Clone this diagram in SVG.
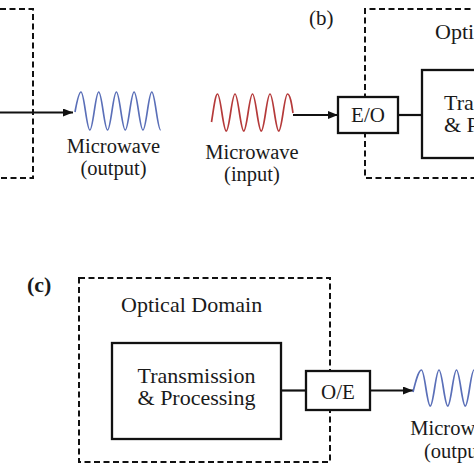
<svg xmlns="http://www.w3.org/2000/svg" width="474" height="474" viewBox="0 0 474 474">
<defs>
<style>
.t{font-family:"Liberation Serif","Times New Roman",serif;fill:#1a1a1a}
.m{font-size:20.5px;text-anchor:middle}
.b{font-size:22px}
.c{text-anchor:middle}
.dash{fill:none;stroke:#111;stroke-width:2;stroke-dasharray:6 3.5}
.box{fill:#fff;stroke:#111;stroke-width:2.3}
.ln{fill:none;stroke:#111;stroke-width:2.2}
.wb{fill:none;stroke:#5a6fb8;stroke-width:1.7}
.wr{fill:none;stroke:#b53a3a;stroke-width:1.7}
</style>
<marker id="ah" viewBox="0 0 10 8" refX="10" refY="4" markerWidth="10" markerHeight="8" markerUnits="userSpaceOnUse" orient="auto">
<path d="M0,0 L10,4 L0,8 Z" fill="#111"/>
</marker>
</defs>

<g id="panel-a">
<path class="dash" d="M0 9 H33 V178 H0"/>
</g>

<g id="panel-b-domain">
<path class="dash" d="M480 9 H365 V178 H480"/>
</g>

<g id="panel-c-domain">
<rect class="dash" x="79" y="278" width="251" height="184"/>
</g>

<g id="connectors">
<line class="ln" x1="0" y1="112.5" x2="73" y2="112.5" marker-end="url(#ah)"/>
<line class="ln" x1="293" y1="115" x2="338" y2="115" marker-end="url(#ah)"/>
<line class="ln" x1="398" y1="115" x2="422" y2="115"/>
<line class="ln" x1="281" y1="390.5" x2="306" y2="390.5"/>
<line class="ln" x1="370" y1="390.5" x2="413" y2="390.5" marker-end="url(#ah)"/>
</g>

<g id="wave-a-output">
<path class="wb" d="M75 112 C77 101 79 92 81 92 C84.22 92 86.63 130 89.85 130 S95.48 92 98.7 92 S104.33 130 107.55 130 S113.18 92 116.4 92 S122.03 130 125.25 130 S130.88 92 134.1 92 S139.73 130 142.95 130 S148.58 92 151.8 92 S157.43 130 160.65 130"/>
<text class="t m" x="113.5" y="153">Microwave</text>
<text class="t m" x="113.5" y="175">(output)</text>
</g>

<g id="wave-b-input">
<path class="wr" d="M211.5 122 C213.5 110 215.3 94 217.5 94 C220.69 94 223.06 131 226.25 131 S231.81 94 235 94 S240.56 131 243.75 131 S249.31 94 252.5 94 S258.06 131 261.25 131 S266.81 94 270 94 S275.56 131 278.75 131 S284.31 94 287.5 94 C290.2 94 291.8 105 293 113"/>
<text class="t m" x="252" y="159">Microwave</text>
<text class="t m" x="252" y="181">(input)</text>
</g>

<g id="label-b">
<text class="t" x="309" y="25" font-size="21">(b)</text>
<text class="t b" x="435" y="39">Optical Domain</text>
</g>

<g id="eo-box">
<rect class="box" x="338" y="97" width="60" height="36"/>
<text class="t c" x="368" y="122" font-size="21">E/O</text>
</g>

<g id="tp-box-b">
<rect class="box" x="422" y="70" width="170" height="88"/>
<text class="t b" x="444" y="110">Transmission</text>
<text class="t b" x="444" y="132">&amp; Processing</text>
</g>

<g id="label-c">
<text class="t" x="27" y="292" font-size="22" font-weight="bold">(c)</text>
<text class="t b" x="121" y="312">Optical Domain</text>
</g>

<g id="tp-box-c">
<rect class="box" x="112" y="343" width="169" height="96"/>
<text class="t b c" x="196.5" y="383">Transmission</text>
<text class="t b c" x="196.5" y="405">&amp; Processing</text>
</g>

<g id="oe-box">
<rect class="box" x="306" y="371" width="64" height="39"/>
<text class="t c" x="338" y="399" font-size="21">O/E</text>
</g>

<g id="wave-c-output">
<path class="wb" d="M413 392 C415.5 382 418.5 370 421.5 370 C424.69 370 427.06 406 430.25 406 S435.81 370 439 370 S444.56 406 447.75 406 S453.31 370 456.5 370 S462.06 406 465.25 406 S470.81 370 474 370 S479.56 406 482.75 406"/>
<text class="t m" x="457" y="435">Microwave</text>
<text class="t m" x="457" y="458">(output)</text>
</g>
</svg>
